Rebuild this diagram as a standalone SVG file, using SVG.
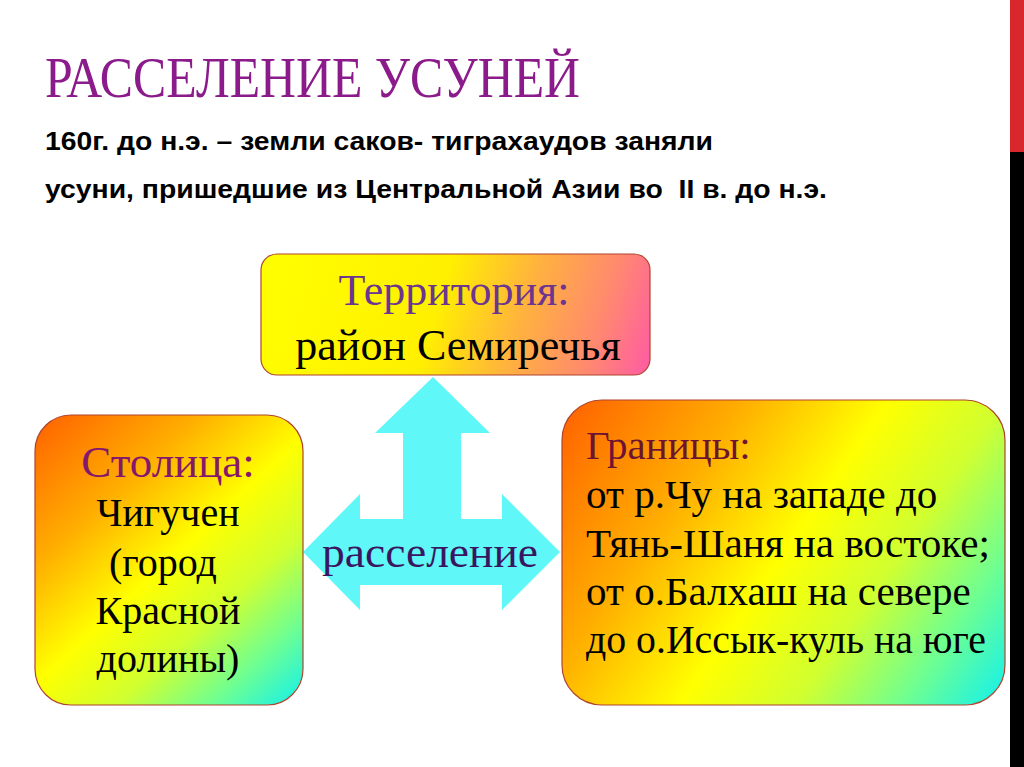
<svg xmlns="http://www.w3.org/2000/svg" width="1024" height="767" viewBox="0 0 1024 767">
  <style>
    .serif { font-family: "Liberation Serif", "Times New Roman", serif; }
    .sans { font-family: "Liberation Sans", Arial, sans-serif; font-weight: bold; font-size: 25px; fill: #000; }
    .box { stroke: #B0452E; stroke-width: 1.2; }
    .body { fill: #000; }
  </style>
  <defs>
    <linearGradient id="gTop" gradientUnits="userSpaceOnUse" x1="261" y1="254" x2="650" y2="375">
      <stop offset="0" stop-color="#FFFF00"/>
      <stop offset="0.45" stop-color="#FFF000"/>
      <stop offset="0.65" stop-color="#FFB43C"/>
      <stop offset="0.85" stop-color="#FF8870"/>
      <stop offset="1" stop-color="#FF5AA5"/>
    </linearGradient>
    <linearGradient id="gLeft" gradientUnits="userSpaceOnUse" x1="35" y1="415" x2="303" y2="705">
      <stop offset="0" stop-color="#FF6000"/>
      <stop offset="0.28" stop-color="#FFAE00"/>
      <stop offset="0.5" stop-color="#FFFF00"/>
      <stop offset="0.68" stop-color="#D0FF30"/>
      <stop offset="0.84" stop-color="#70FF90"/>
      <stop offset="1" stop-color="#10F0F0"/>
    </linearGradient>
    <linearGradient id="gRight" gradientUnits="userSpaceOnUse" x1="562" y1="400" x2="1005" y2="705">
      <stop offset="0" stop-color="#FF6000"/>
      <stop offset="0.28" stop-color="#FFAE00"/>
      <stop offset="0.5" stop-color="#FFFF00"/>
      <stop offset="0.68" stop-color="#D0FF30"/>
      <stop offset="0.84" stop-color="#70FF90"/>
      <stop offset="1" stop-color="#10F0F0"/>
    </linearGradient>
  </defs>

  <rect x="0" y="0" width="1024" height="767" fill="#FFFFFF"/>
  <rect x="1010" y="0" width="14" height="152" fill="#D8282E"/>
  <rect x="1010" y="152" width="14" height="615" fill="#000000"/>

  <g id="title">
    <text class="serif" x="45" y="97" font-size="58" fill="#8B1A8B" textLength="535" lengthAdjust="spacingAndGlyphs">РАССЕЛЕНИЕ УСУНЕЙ</text>
    <text class="sans" x="45" y="150" textLength="668" lengthAdjust="spacingAndGlyphs">160г. до н.э. – земли саков- тиграхаудов заняли</text>
    <text class="sans" x="45" y="198" textLength="782" lengthAdjust="spacingAndGlyphs">усуни, пришедшие из Центральной Азии во&#160; II в. до н.э.</text>
  </g>

  <g id="connectors">
    <path d="M433,377 L490,433 L461,433 L461,519 L502,519 L502,494 L560,552 L502,610 L502,585 L360,585 L360,610 L303,552 L360,494 L360,519 L403,519 L403,433 L375,433 Z" fill="#5FF7F7"/>
    <text class="serif" x="430" y="567" font-size="45" fill="#3A1660" text-anchor="middle" textLength="216" lengthAdjust="spacingAndGlyphs">расселение</text>
  </g>

  <g id="territory">
    <rect class="box" x="261" y="254" width="389" height="121" rx="16" fill="url(#gTop)"/>
    <text class="serif" x="454" y="305" font-size="44" fill="#6B3590" text-anchor="middle">Территория:</text>
    <text class="serif body" x="458" y="360" font-size="44" text-anchor="middle">район Семиречья</text>
  </g>

  <g id="capital">
    <rect class="box" x="35" y="415" width="268" height="290" rx="36" fill="url(#gLeft)"/>
    <text class="serif" x="168" y="477" font-size="45" fill="#85186A" text-anchor="middle">Столица:</text>
    <text class="serif body" x="168" y="526" font-size="40" text-anchor="middle">Чигучен</text>
    <text class="serif body" x="163" y="576" font-size="40" text-anchor="middle">(город</text>
    <text class="serif body" x="168" y="624" font-size="40" text-anchor="middle">Красной</text>
    <text class="serif body" x="168" y="672" font-size="40" text-anchor="middle">долины)</text>
  </g>

  <g id="borders">
    <rect class="box" x="562" y="400" width="443" height="305" rx="40" fill="url(#gRight)"/>
    <text class="serif" x="586" y="459" font-size="41" fill="#6E1433">Границы:</text>
    <text class="serif body" x="586" y="508" font-size="41">от р.Чу на западе до</text>
    <text class="serif body" x="586" y="557" font-size="41" textLength="404" lengthAdjust="spacingAndGlyphs">Тянь-Шаня на востоке;</text>
    <text class="serif body" x="586" y="605" font-size="41">от о.Балхаш на севере</text>
    <text class="serif body" x="586" y="653" font-size="41" textLength="400" lengthAdjust="spacingAndGlyphs">до о.Иссык-куль на юге</text>
  </g>
</svg>
